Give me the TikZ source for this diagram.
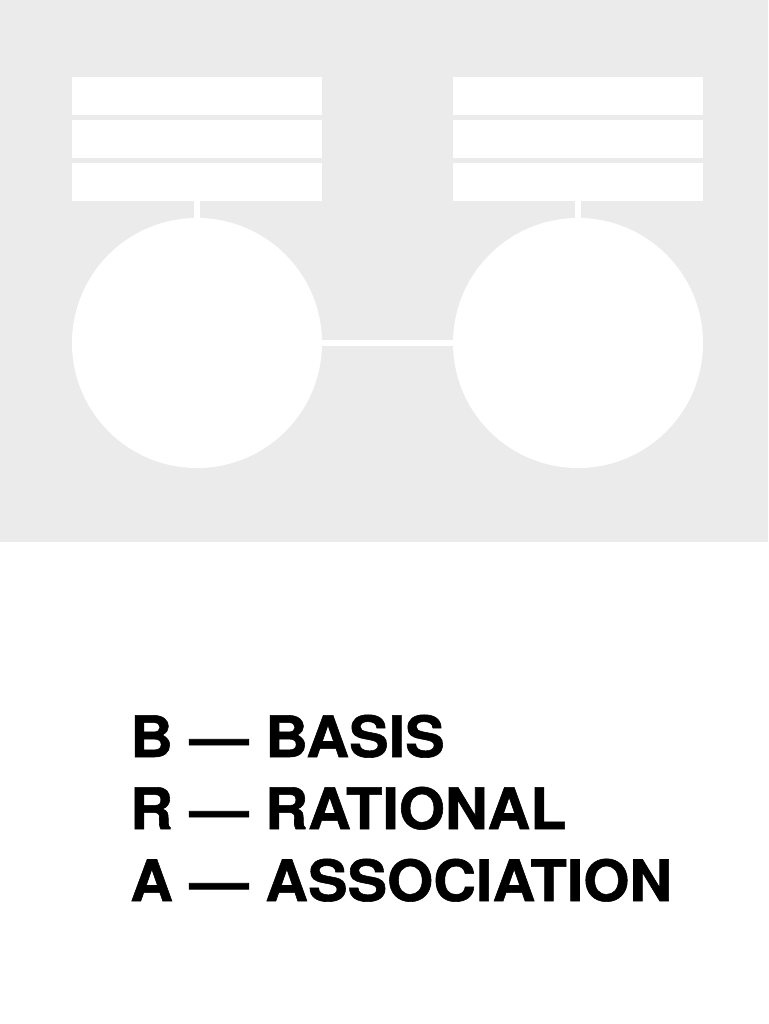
\documentclass[tikz,border=0pt]{standalone}
\usepackage{fontspec}
\setmainfont{TeX Gyre Heros}[FakeBold=1.2]
\newfontfamily\lblfont{TeX Gyre Heros}[FakeBold=1.0,FakeStretch=1.04]
\definecolor{bg}{HTML}{EBEBEB}
\begin{document}
\begin{tikzpicture}[x=1pt,y=-1pt,
  bar/.style={fill=white,draw=none},
  link/.style={draw=white,line width=6pt},
  lbl/.style={anchor=base west,inner sep=0pt,font=\lblfont\bfseries\fontsize{57}{72}\selectfont}]
\useasboundingbox (0,0) rectangle (768,1024);
\fill[white] (0,0) rectangle (768,1024);
\fill[bg] (0,0) rectangle (768,542);
\foreach \x in {72,453}{
  \fill[bar] (\x,77) rectangle ++(250,38);
  \fill[bar] (\x,120) rectangle ++(250,38);
  \fill[bar] (\x,163) rectangle ++(250,38);
}
\coordinate (lb) at (197,201);
\coordinate (rb) at (578,201);
\node[circle,fill=white,minimum size=250pt,inner sep=0pt] (lc) at (197,343) {};
\node[circle,fill=white,minimum size=250pt,inner sep=0pt] (rc) at (578,343) {};
\draw[link] (lb) -- (lc);
\draw[link] (rb) -- (rc);
\draw[link] (lc) -- (rc);
\node[lbl] (t1) at (130,757) {B — BASIS};
\node[lbl] (t2) at (130,829) {R — RATIONAL};
\node[lbl] (t3) at (130,901) {A — ASSOCIATION};
\end{tikzpicture}
\end{document}
